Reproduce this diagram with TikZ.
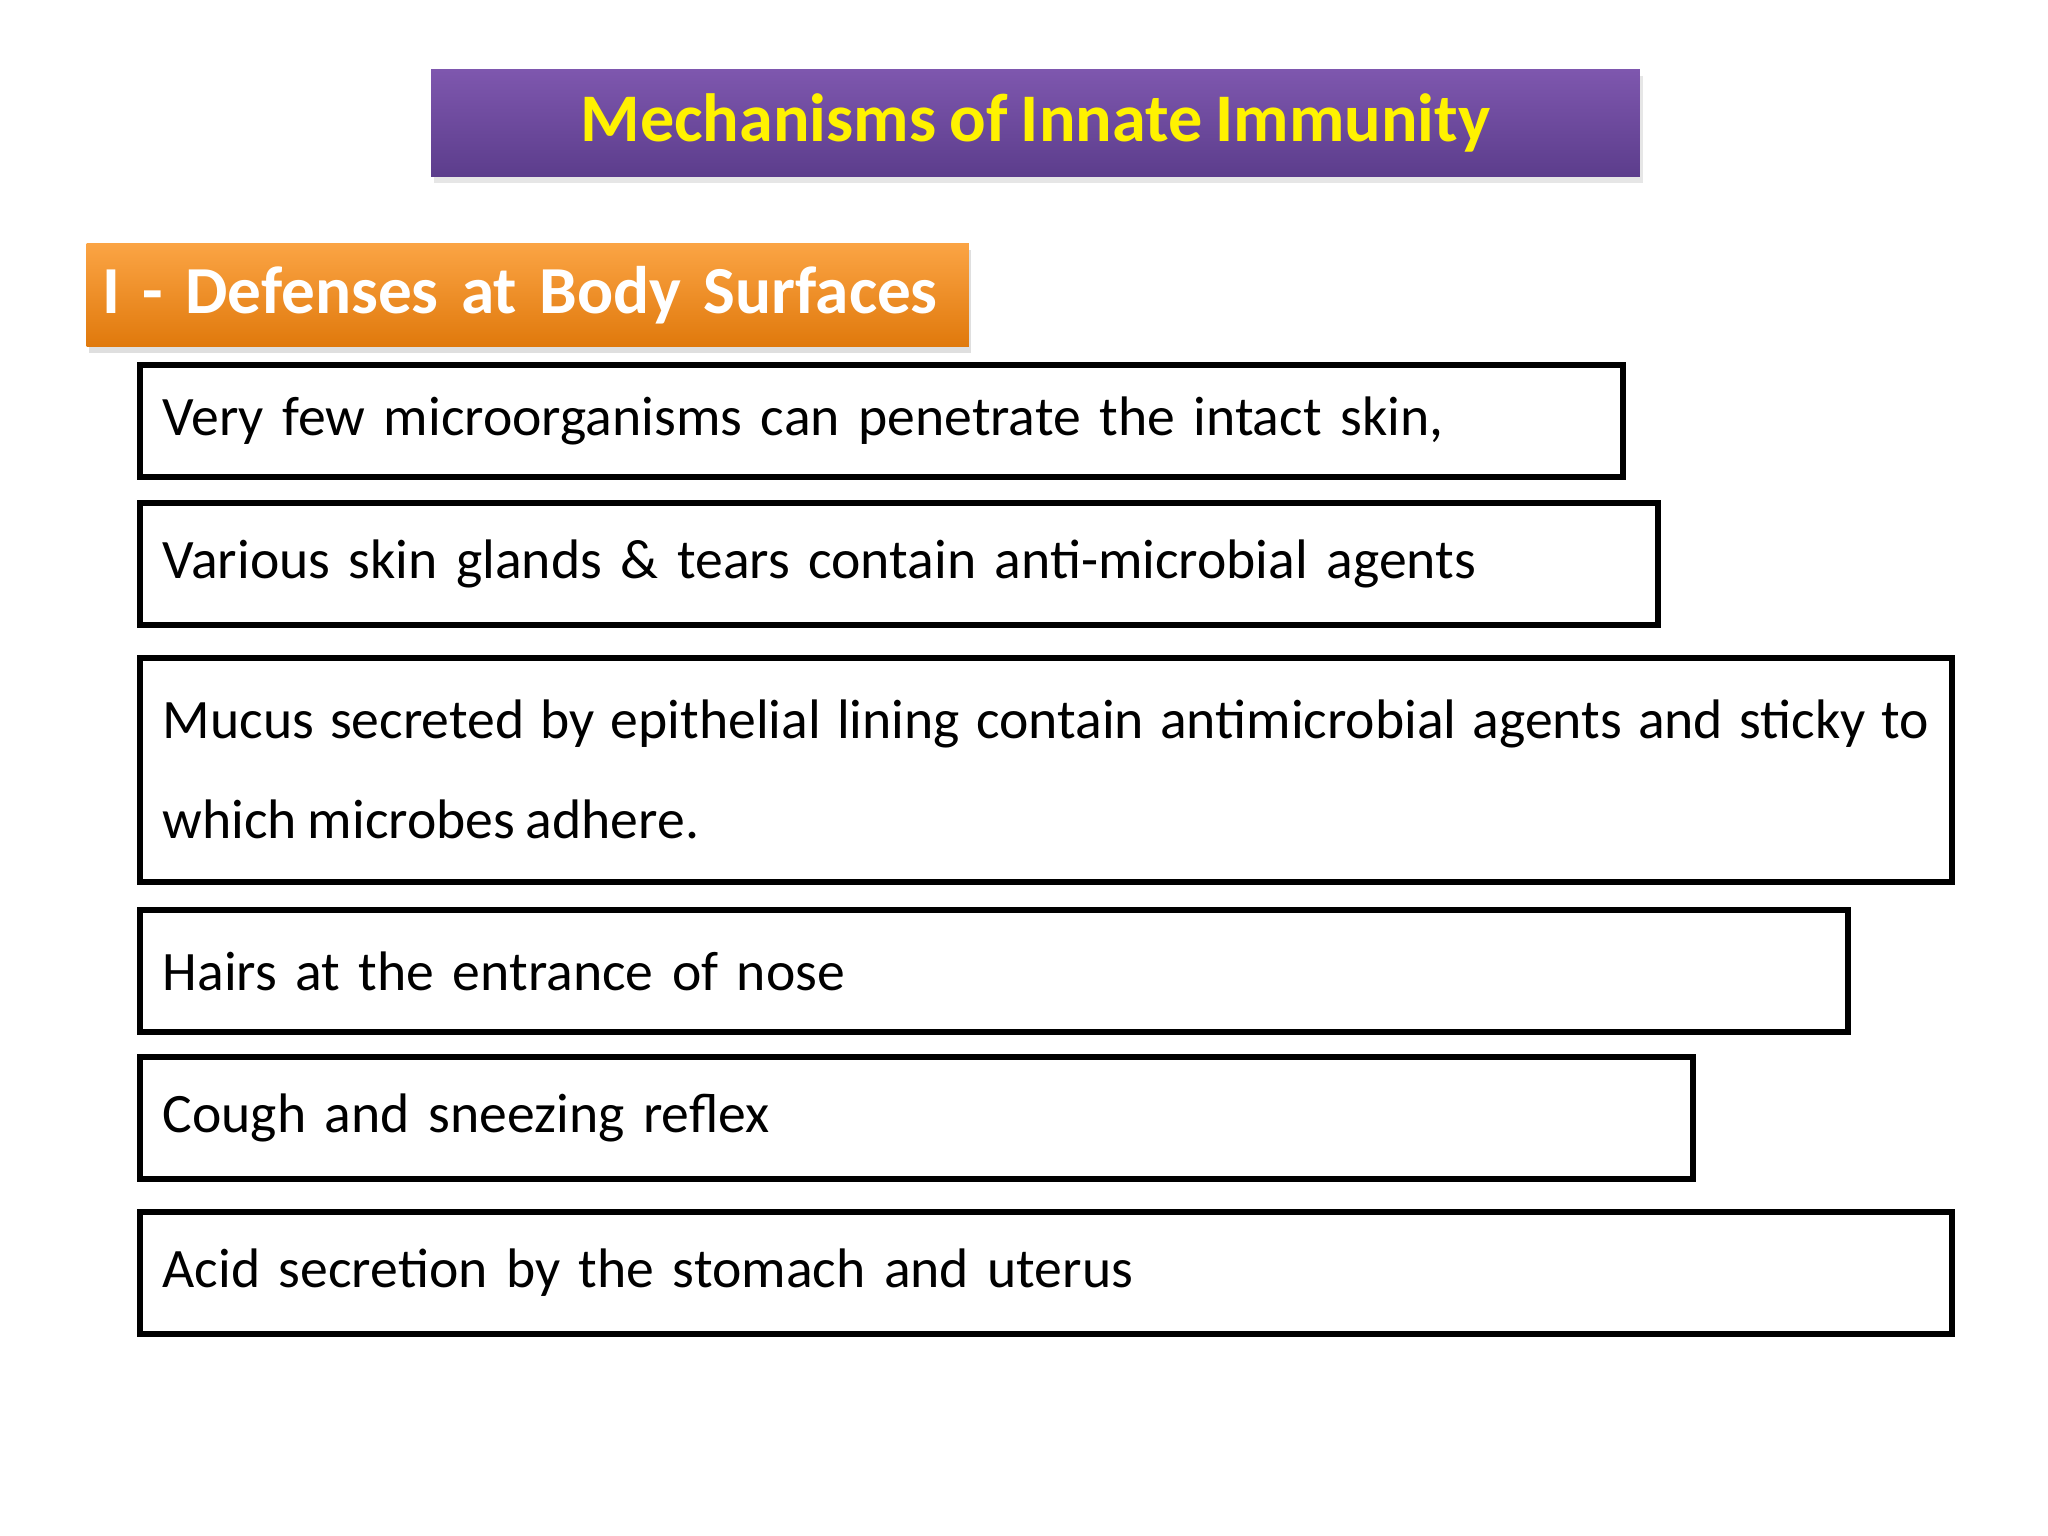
\documentclass[tikz,border=0pt]{standalone}
\usepackage{fontspec}
\setmainfont{Carlito}[WordSpace=0.85]
\usetikzlibrary{positioning,shadows}
\definecolor{titletop}{HTML}{7E57AE}
\definecolor{titlebot}{HTML}{5C3D8C}
\definecolor{headtop}{HTML}{FBA444}
\definecolor{headbot}{HTML}{E0790C}
\tikzset{
    factbox/.style={
           rectangle,
           draw=black, line width=1.3pt,
           anchor=north west,
           inner xsep=0.17cm,
           font=\fontsize{12pt}{21.5pt}\selectfont,
           },
     titlebox/.style={
           rectangle,
           top color=titletop, bottom color=titlebot,
           drop shadow={opacity=0.2, shadow xshift=0.02cm, shadow yshift=-0.05cm},
           text=yellow,
           font=\fontsize{14.7pt}{16pt}\selectfont\bfseries,
           },
     headbox/.style={
           rectangle,
           top color=headtop, bottom color=headbot,
           drop shadow={opacity=0.25, shadow xshift=0.02cm, shadow yshift=-0.05cm},
           text=white,
           font=\fontsize{14.5pt}{16pt}\selectfont\bfseries,
           },
}
\newcommand{\factline}[1]{\raisebox{-0.08cm}{#1}}
\begin{document}
\begin{tikzpicture}
	\useasboundingbox (0,0) rectangle (15.52,-11.64);
	\node[titlebox, anchor=north west, minimum width=9.16cm, minimum height=0.81cm] (title) at (3.26,-0.52) {Mechanisms of Innate Immunity};
	\node[headbox, anchor=north west, minimum width=6.59cm, minimum height=0.78cm, text width=6.45cm, align=left] (head) at (0.65,-1.84) {I - Defenses at Body Surfaces};

	%fact boxes
	\node[factbox, minimum width=11.24cm, minimum height=0.85cm, text width=10.9cm, align=left] (f1) at (1.04,-2.74) {\factline{Very few microorganisms can penetrate the intact skin,}};
	\node[factbox, minimum width=11.50cm, minimum height=0.92cm, text width=11.16cm, align=left] (f2) at (1.04,-3.79) {\factline{Various skin glands \& tears contain anti-microbial agents}};
	\node[factbox, minimum width=13.73cm, minimum height=1.70cm, text width=13.39cm, align=justify] (f3) at (1.04,-4.96) {Mucus secreted by epithelial lining contain antimicrobial agents and sticky to which microbes adhere.};
	\node[factbox, minimum width=12.94cm, minimum height=0.93cm, text width=12.6cm, align=left] (f4) at (1.04,-6.87) {\factline{Hairs at the entrance of nose}};
	\node[factbox, minimum width=11.77cm, minimum height=0.92cm, text width=11.43cm, align=left] (f5) at (1.04,-7.99) {\factline{Cough and sneezing reflex}};
	\node[factbox, minimum width=13.73cm, minimum height=0.93cm, text width=13.39cm, align=left] (f6) at (1.04,-9.16) {\factline{Acid secretion by the stomach and uterus}};
\end{tikzpicture}
\end{document}
